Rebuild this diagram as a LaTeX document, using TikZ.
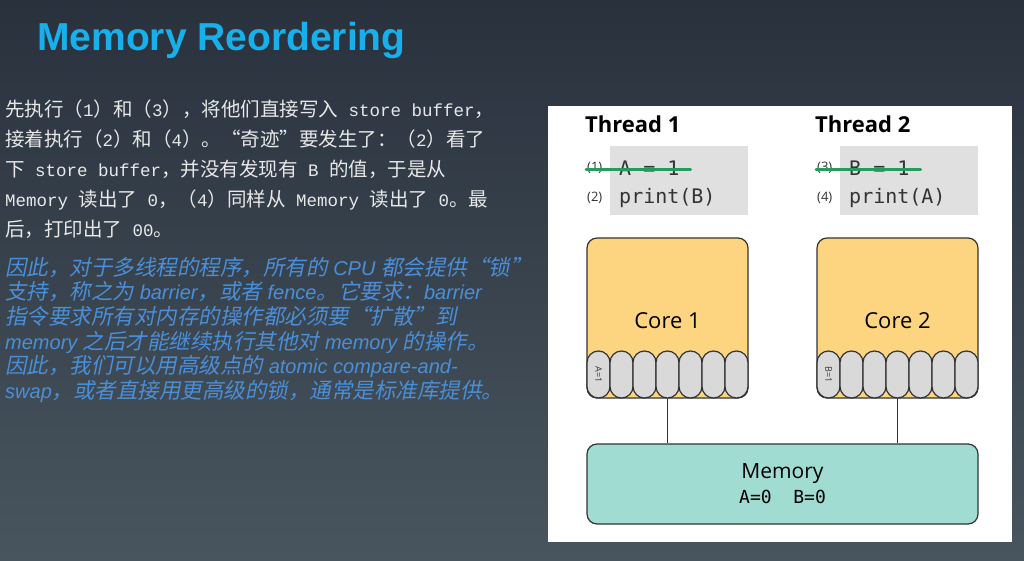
\documentclass[tikz,border=0pt]{standalone}
\usepackage{fontspec}
\setmainfont{Liberation Sans}
\newfontfamily\cjk{Noto Sans CJK SC}
\newfontfamily\cjkit[FakeSlant=0.2]{Noto Sans CJK SC}
\newfontfamily\latinf{Liberation Sans}
\newfontfamily\monof{Liberation Mono}
\newfontfamily\codef{DejaVu Sans Mono}
\newfontfamily\labelf{Open Sans}
\usetikzlibrary{positioning}
\definecolor{bgtop}{HTML}{29313D}
\definecolor{bgbot}{HTML}{48555F}
\definecolor{titleblue}{HTML}{18B0EA}
\definecolor{noteblue}{HTML}{4A8FD8}
\definecolor{parawhite}{HTML}{E8E8E8}
\definecolor{coregold}{HTML}{FDD480}
\definecolor{memteal}{HTML}{A0DCD2}
\definecolor{pillgray}{HTML}{D9D9D9}
\definecolor{codegray}{HTML}{E0E0E0}
\definecolor{strikegreen}{HTML}{2A9A5C}
\definecolor{edge}{HTML}{333333}
\newcommand\mo[1]{{\monof\fontsize{17.5}{30}\selectfont #1}}
\newcommand\la[1]{{\latinf\itshape\fontsize{20}{25}\selectfont #1}}
\tikzstyle{title} = [anchor=base west, inner sep=0, text=titleblue,
    font=\bfseries\fontsize{39}{39}\selectfont]
\tikzstyle{para} = [anchor=base west, inner sep=0, text=parawhite,
    font=\cjk\fontsize{19.5}{30}\selectfont]
\tikzstyle{note} = [anchor=base west, inner sep=0, text=noteblue,
    font=\cjkit\fontsize{21.5}{25}\selectfont]
\tikzstyle{thread} = [anchor=west, inner sep=0, font=\labelf\bfseries\fontsize{22}{22}\selectfont]
\tikzstyle{codebox} = [fill=codegray, minimum width=138, minimum height=69, inner sep=0]
\tikzstyle{num} = [anchor=west, inner sep=0, text=edge, font=\labelf\fontsize{13}{13}\selectfont]
\tikzstyle{code} = [anchor=west, inner sep=0, text=edge, font=\codef\fontsize{20}{20}\selectfont]
\tikzstyle{strike} = [draw=strikegreen, line width=3pt, line cap=round]
\tikzstyle{core} = [draw=edge, fill=coregold, line width=1.2pt, rounded corners=10pt,
    minimum width=161, minimum height=160, inner sep=0]
\tikzstyle{pill} = [draw=edge, fill=pillgray, line width=1.2pt, rounded corners=11.5pt,
    minimum width=23, minimum height=47, inner sep=0]
\tikzstyle{mem} = [draw=edge, fill=memteal, line width=1.2pt, rounded corners=10pt,
    minimum width=391, minimum height=80, inner sep=0, align=center,
    font=\labelf\fontsize{21}{25}\selectfont]
\tikzstyle{wire} = [draw=edge, line width=1pt]

\begin{document}
\begin{tikzpicture}[x=1pt, y=-1pt]
    % Background and panel
    \shade [top color=bgtop, bottom color=bgbot] (0,0) rectangle (1024,561);
    \fill [white] (548,106) rectangle (1012,542);

    % Title and text
    \node [title] (title) at (37,51) {Memory Reordering};
    \foreach \ln [count=\i] in {
        {先执行（\mo{1}）和（\mo{3}），将他们直接写入\mo{ store buffer}，},
        {接着执行（\mo{2}）和（\mo{4}）。“奇迹”要发生了：（\mo{2}）看了},
        {下\mo{ store buffer}，并没有发现有\mo{ B }的值，于是从},
        {\mo{Memory }读出了\mo{ 0}，（\mo{4}）同样从\mo{ Memory }读出了\mo{ 0}。最},
        {后，打印出了\mo{ 00}。}}
        \node [para] (p\i) at (5,{117+29.8*(\i-1)}) {\ln};
    \foreach \ln [count=\i] in {
        {因此，对于多线程的程序，所有的\la{ CPU }都会提供“锁”},
        {支持，称之为\la{ barrier}，或者\la{ fence}。它要求：\la{barrier}},
        {指令要求所有对内存的操作都必须要“扩散”到},
        {\la{memory }之后才能继续执行其他对\la{ memory }的操作。},
        {因此，我们可以用高级点的\la{ atomic compare-and-}},
        {\la{swap}，或者直接用更高级的锁，通常是标准库提供。}}
        \node [note] (n\i) at (5,{275+24.7*(\i-1)}) {\ln};

    % Threads
    \node [thread] (th1) at (585,124) {Thread 1};
    \node [thread] (th2) at (815,124) {Thread 2};
    \node [codebox] (box1) at (679,180.5) {};
    \node [codebox] (box2) at (909,180.5) {};
    \node [num] (s1) at (587,168) {(1)};
    \node [code] (c1) at (619,168) {A = 1};
    \node [num] (s2) at (587,198) {(2)};
    \node [code] (c2) at (619,198) {print(B)};
    \node [num] (s3) at (817,168) {(3)};
    \node [code] (c3) at (849,168) {B = 1};
    \node [num] (s4) at (817,198) {(4)};
    \node [code] (c4) at (849,198) {print(A)};
    \draw [strike, shorten <=-1pt, shorten >=-11pt] ([yshift=-2pt]s1.west) -- ([yshift=-2pt]c1.east);
    \draw [strike, shorten <=-1pt, shorten >=-11pt] ([yshift=-2pt]s3.west) -- ([yshift=-2pt]c3.east);

    % Cores with store buffers
    \node [core] (core1) at (667.5,318) {};
    \node [core] (core2) at (897.5,318) {};
    \node [font=\labelf\fontsize{22}{22}\selectfont, below=72pt of core1.north] {Core 1};
    \node [font=\labelf\fontsize{22}{22}\selectfont, below=72pt of core2.north] {Core 2};
    \foreach \i in {0,...,6} {
        \node [pill] (pa\i) at (598.5+23*\i,374.5) {};
        \node [pill] (pb\i) at (828.5+23*\i,374.5) {};
    }
    \node [rotate=-90, inner sep=0, text=edge, font=\labelf\fontsize{9}{9}\selectfont] at (pa0) {A=1};
    \node [rotate=-90, inner sep=0, text=edge, font=\labelf\fontsize{9}{9}\selectfont] at (pb0) {B=1};

    % Memory
    \node [mem] (mem) at (782.5,484) {Memory\\{\codef\fontsize{18}{25}\selectfont A=0\ \ B=0}};
    \draw [wire] (core1.south) -- (core1.south |- mem.north);
    \draw [wire] (core2.south) -- (core2.south |- mem.north);
\end{tikzpicture}
\end{document}
